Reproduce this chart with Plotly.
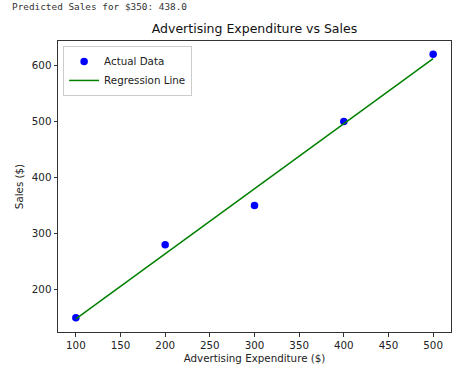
import plotly.graph_objects as go

# Data
ad_spend = [100, 200, 300, 400, 500]
sales = [150, 280, 350, 500, 620]
reg_x = [100, 200, 300, 400, 500]
reg_y = [148, 264, 380, 496, 612]
x_ticks = [100, 150, 200, 250, 300, 350, 400, 450, 500]
y_ticks = [200, 300, 400, 500, 600]

font_main = "DejaVu Sans"
tick_color = "#222222"

fig = go.Figure()
fig.add_trace(go.Scatter(
    x=ad_spend, y=sales, mode="markers", name="Actual Data",
    marker=dict(color="#0000ff", size=7.5, line=dict(width=0)),
))
fig.add_trace(go.Scatter(
    x=reg_x, y=reg_y, mode="lines", name="Regression Line",
    line=dict(color="#008000", width=1.5),
))

axis_common = dict(
    showgrid=False, zeroline=False, automargin=False,
    showline=True, linecolor="#333333", linewidth=1, mirror=True,
    ticks="outside", ticklen=3.5, tickwidth=0.8, tickcolor="#333333",
    tickfont=dict(family=font_main, size=10.3, color=tick_color),
)

fig.update_layout(
    width=474, height=376,
    margin=dict(l=58, r=23, t=41, b=44, autoexpand=False),
    paper_bgcolor="white", plot_bgcolor="white",
    title=dict(text="Advertising Expenditure vs Sales",
               x=(58 + 451) / 2 / 474, xanchor="center",
               y=1 - 29 / 376, yanchor="middle",
               font=dict(family=font_main, size=12.5, color="#111111")),
    xaxis=dict(range=[80, 520], tickvals=x_ticks,
               title=dict(text="Advertising Expenditure ($)", standoff=4,
                          font=dict(family=font_main, size=10.3, color=tick_color)),
               **axis_common),
    yaxis=dict(range=[124.4, 643.6], tickvals=y_ticks,
               title=dict(text="Sales ($)", standoff=6,
                          font=dict(family=font_main, size=10.3, color=tick_color)),
               **axis_common),
    legend=dict(x=0.013, y=0.983, xanchor="left", yanchor="top",
                bgcolor="rgba(255,255,255,0.9)", bordercolor="#cccccc", borderwidth=1,
                font=dict(family=font_main, size=10.3, color=tick_color),
                tracegroupgap=0),
    showlegend=True,
    annotations=[dict(
        text="Predicted Sales for $350: 438.0",
        xref="paper", yref="paper", x=(10 - 58) / 393, y=1 + (41 - 7) / 291,
        xanchor="left", yanchor="middle", showarrow=False,
        font=dict(family="DejaVu Sans Mono", size=9.4, color="#333333"),
    )],
)

fig.write_html("out.html", config={"displayModeBar": False},
               post_script="document.body.style.margin='0';document.body.style.overflow='hidden';")
